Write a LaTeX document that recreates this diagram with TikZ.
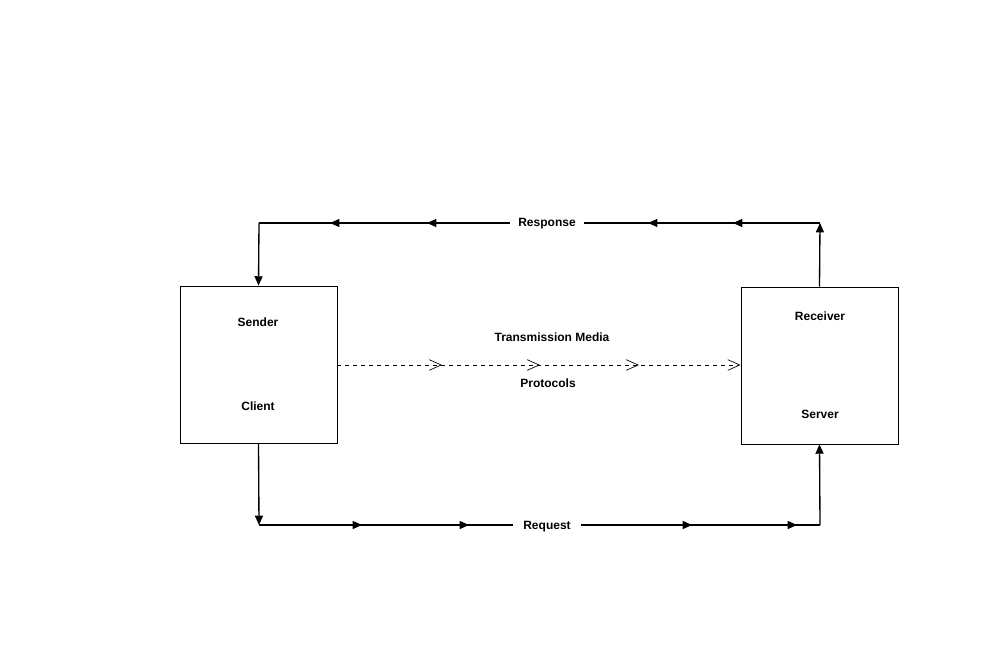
\documentclass[tikz,border=0pt]{standalone}
\usepackage{fontspec}
\setmainfont{Liberation Sans}
\usetikzlibrary{arrows.meta}
\begin{document}
\begin{tikzpicture}[x=0.75pt,y=-0.75pt,
  box/.style={draw,minimum width=157*0.75pt,minimum height=157*0.75pt,inner sep=0,line width=0.6pt},
  lbl/.style={font=\fontsize{9}{11}\selectfont\bfseries,inner sep=1pt},
  ln/.style={line width=1pt},
  fa/.style={ln,-{Triangle[length=7pt,width=6pt]}},
  da/.style={dashed,line width=0.5pt,-{Straight Barb[length=9pt,width=8pt]}}]
\useasboundingbox (0,0) rectangle (999,655);
\node[box] (L) at (258.5,364.5) {};
\node[box] (R) at (819.5,365.5) {};
\node[lbl] (snd) at (258,322) {Sender};
\node[lbl] (cli) at (258,406) {Client};
\node[lbl] (rcv) at (820,316) {Receiver};
\node[lbl] (srv) at (820,414) {Server};
% response
\coordinate (rt) at (820,223);
\coordinate (lt) at (259,223);
\draw[fa] (R.north) -- (rt);
\draw[ln] (rt) -- (lt);
\draw[fa] (rt) -- (733,223);
\draw[fa] (rt) -- (648,223);
\draw[fa] (530,223) -- (427,223);
\draw[fa] (530,223) -- (330,223);
\draw[fa] (lt) -- (L.north);
\node[lbl,fill=white,inner xsep=6pt] (resp) at (547,224) {Response};
% request
\coordinate (lb) at (259,525);
\coordinate (rb) at (820,525);
\draw[fa] (L.south) -- (lb);
\draw[ln] (lb) -- (rb);
\draw[fa] (lb) -- (362,525);
\draw[fa] (lb) -- (469,525);
\draw[fa] (560,525) -- (692,525);
\draw[fa] (560,525) -- (797,525);
\draw[fa] (rb) -- (R.south);
\node[lbl,fill=white,inner xsep=8pt] (req) at (547,527) {Request};
% dashed
\draw[da] (L.east |- 0,365) -- (442,365);
\draw[da] (L.east |- 0,365) -- (540,365);
\draw[da] (L.east |- 0,365) -- (639,365);
\draw[da] (L.east |- 0,365) -- (R.west |- 0,365);
\node[lbl] (tm) at (552,337) {Transmission Media};
\node[lbl] (pr) at (548,383) {Protocols};
\end{tikzpicture}
\end{document}
